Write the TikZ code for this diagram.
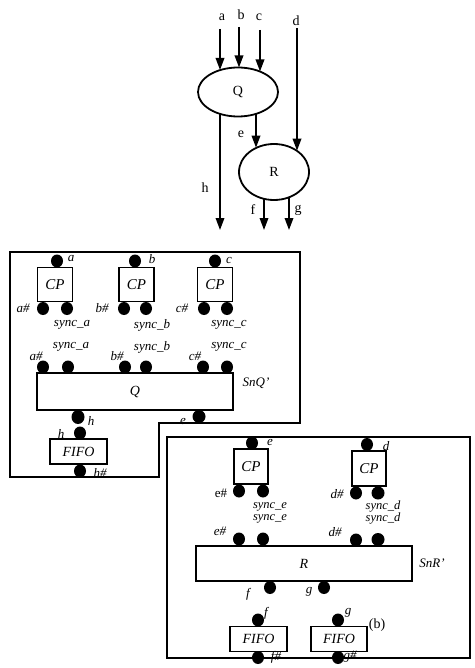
\documentclass[tikz,border=0pt]{standalone}
\usepackage{fontspec}
\setmainfont{Liberation Serif}
\usetikzlibrary{shapes.geometric,arrows.meta,calc}
\begin{document}
\begin{tikzpicture}[x=1pt,y=-1pt,
  lw/.style={line width=1.8pt},
  arr/.style={line width=1.8pt,-{Triangle[length=12pt,width=8.5pt]}},
  proc/.style={ellipse,draw,line width=1.8pt,inner sep=0pt,font=\fontsize{14}{14}\selectfont},
  port/.style={ellipse,fill=black,minimum width=12pt,minimum height=13pt,inner sep=0pt},
  cpbox/.style={draw,line width=1.8pt,minimum width=35pt,minimum height=34pt,inner sep=0pt,font=\itshape\fontsize{15}{15}\selectfont},
  bigbox/.style={draw,line width=1.8pt,inner sep=0pt,font=\itshape\fontsize{14}{14}\selectfont},
  fifo/.style={draw,line width=1.8pt,minimum width=57pt,minimum height=25pt,inner sep=0pt,font=\itshape\fontsize{14}{14}\selectfont},
  lab/.style={font=\itshape\fontsize{13}{13}\selectfont,inner sep=0pt},
  tlab/.style={font=\fontsize{14}{14}\selectfont,inner sep=0pt},
  slab/.style={font=\itshape\fontsize{12.5}{12.5}\selectfont,inner sep=0pt}]
\useasboundingbox (0,0) rectangle (474,668);

% ---------------- top diagram ----------------
\node[proc,minimum width=80pt,minimum height=49pt] (Q) at (238,92) {Q};
\node[proc,minimum width=70pt,minimum height=56pt] (R) at (274,172) {R};

\node[tlab] (la) at (222,17) {a};
\node[tlab] (lb) at (241,15) {b};
\node[tlab] (lc) at (259,17) {c};
\node[tlab] (ld) at (296,21) {d};
\node[tlab] (le) at (241,134) {e};
\node[tlab] (lh) at (205,188) {h};
\node[tlab] (lf) at (253,210) {f};
\node[tlab] (lg) at (298,210) {g};

\coordinate (sa) at (220,29);
\coordinate (sb) at (239,27);
\coordinate (sc) at (260,30);
\coordinate (sd) at (297,28);
\coordinate (qa) at ($(Q.center)+(-18,-22)$);
\coordinate (qb) at ($(Q.center)+(1,-24.5)$);
\coordinate (qc) at ($(Q.center)+(22,-20.5)$);
\coordinate (qe) at ($(Q.center)+(18,22)$);
\coordinate (qh) at ($(Q.center)+(-18,22)$);
\coordinate (re) at ($(R.center)+(-18,-24.3)$);
\coordinate (rd) at ($(R.center)+(23,-21.3)$);
\coordinate (rf) at ($(R.center)+(-10,27)$);
\coordinate (rg) at ($(R.center)+(15,25.6)$);
\coordinate (eh) at (220,230);
\coordinate (ef) at (264,230);
\coordinate (eg) at (289,230);

\draw[arr] (sa) -- (qa);
\draw[arr] (sb) -- (qb);
\draw[arr] (sc) -- (qc);
\draw[arr] (sd) -- (rd);
\draw[arr] (qe) -- (re);
\draw[arr] (qh) -- (eh);
\draw[arr] (rf) -- (ef);
\draw[arr] (rg) -- (eg);

% ---------------- SnQ' ----------------
\draw[lw] (10,252) -- (300,252) -- (300,423) -- (159,423) -- (159,477) -- (10,477) -- cycle;

\node[cpbox] (cp1) at (55,284.5) {CP};
\node[cpbox] (cp2) at (136.5,284.5) {CP};
\node[cpbox] (cp3) at (215,284.5) {CP};

\node[port] (cp1t) at (57,261) {};
\node[port] (cp2t) at (135,261) {};
\node[port] (cp3t) at (215,261) {};
\node[port] (cp1l) at (43,308.5) {};
\node[port] (cp1r) at (67,308.5) {};
\node[port] (cp2l) at (124,308.5) {};
\node[port] (cp2r) at (146,308.5) {};
\node[port] (cp3l) at (204,308.5) {};
\node[port] (cp3r) at (227,308.5) {};

\node[lab] (l1a) at (71,259) {a};
\node[lab] (l2b) at (152,259) {b};
\node[lab] (l3c) at (229,260) {c};
\node[lab] (l1h) at (23,308) {a\#};
\node[lab] (l2h) at (102,308) {b\#};
\node[lab] (l3h) at (182,308) {c\#};
\node[lab] (l1s) at (72,325) {sync\_a};
\node[lab] (l2s) at (152,325) {sync\_b};
\node[lab] (l3s) at (229,325) {sync\_c};

\node[bigbox,minimum width=196pt,minimum height=37pt] (qbox) at (135,391.5) {Q};
\node[port] (qp1) at (43,367) {};
\node[port] (qp2) at (68,367) {};
\node[port] (qp3) at (125,367) {};
\node[port] (qp4) at (146,367) {};
\node[port] (qp5) at (203,367) {};
\node[port] (qp6) at (227,367) {};
\node[lab] (qla) at (36,356) {a\#};
\node[lab] (qlb) at (117,356) {b\#};
\node[lab] (qlc) at (195,356) {c\#};
\node[lab] (qsa) at (71,347) {sync\_a};
\node[lab] (qsb) at (152,347) {sync\_b};
\node[lab] (qsc) at (229,347) {sync\_c};
\node[lab] (snq) at (256,383) {SnQ'};

\node[port,minimum width=13pt,minimum height=14pt] (qh) at (78,417) {};
\node[port,minimum width=13pt,minimum height=13pt] (qe2) at (199,416.5) {};
\node[lab] (qhl) at (91,421) {h};
\node[lab] (qel) at (183,421) {e};

\node[fifo] (fh) at (78.5,451.5) {FIFO};
\node[port] (fht) at (80,433) {};
\node[port] (fhb) at (80,471) {};
\node[lab] (fhl) at (61,434) {h};
\node[lab] (fhh) at (100,473) {h\#};

% ---------------- SnR' ----------------
\draw[lw] (167,437) rectangle (470,658);

\node[cpbox,minimum width=34pt,minimum height=35pt] (cpe) at (251,466.5) {CP};
\node[cpbox,minimum width=34pt,minimum height=35pt] (cpd) at (369,468.5) {CP};
\node[port] (cpet) at (252,443) {};
\node[port] (cpdt) at (367,444.5) {};
\node[port] (cpel) at (239,491) {};
\node[port] (cper) at (263,491) {};
\node[port] (cpdl) at (356,493) {};
\node[port,minimum width=13pt] (cpdr) at (378,493) {};
\node[lab] (le1) at (270,442) {e};
\node[lab] (ld1) at (386,446) {d};
\node[tlab,font=\fontsize{13}{13}\selectfont] (leh) at (221,493) {e\#};
\node[lab] (ldh) at (337,494) {d\#};
\node[slab] (les1) at (270,506.5) {sync\_e};
\node[slab] (les2) at (270,518.5) {sync\_e};
\node[slab] (lds1) at (383,506.5) {sync\_d};
\node[slab] (lds2) at (383,518.5) {sync\_d};

\node[bigbox,minimum width=216pt,minimum height=35pt] (rbox) at (304,563.5) {R};
\node[port] (rp1) at (239,539) {};
\node[port] (rp2) at (263,539) {};
\node[port] (rp3) at (356,540) {};
\node[port,minimum width=13pt] (rp4) at (378,539.5) {};
\node[lab] (rle) at (220,531) {e\#};
\node[lab] (rld) at (335,532) {d\#};
\node[lab] (snr) at (432,563) {SnR'};

\node[port] (rf2) at (270,587.5) {};
\node[port] (rg2) at (324,587.5) {};
\node[lab] (rfl) at (248,594) {f};
\node[lab] (rgl) at (309,592) {g};

\node[fifo] (ff) at (258.5,639) {FIFO};
\node[fifo,minimum width=56pt] (fg) at (339,639) {FIFO};
\node[port] (fft) at (258,620) {};
\node[port] (ffb) at (258,657.5) {};
\node[port] (fgt) at (338,620) {};
\node[port] (fgb) at (338,657.5) {};
\node[lab] (ffl) at (266,613) {f};
\node[lab] (ffh) at (276,657) {f\#};
\node[lab] (fgl) at (348,613) {g};
\node[lab] (fgh) at (350,657) {g\#};
\node[tlab] (bl) at (377,625) {(b)};
\end{tikzpicture}
\end{document}
